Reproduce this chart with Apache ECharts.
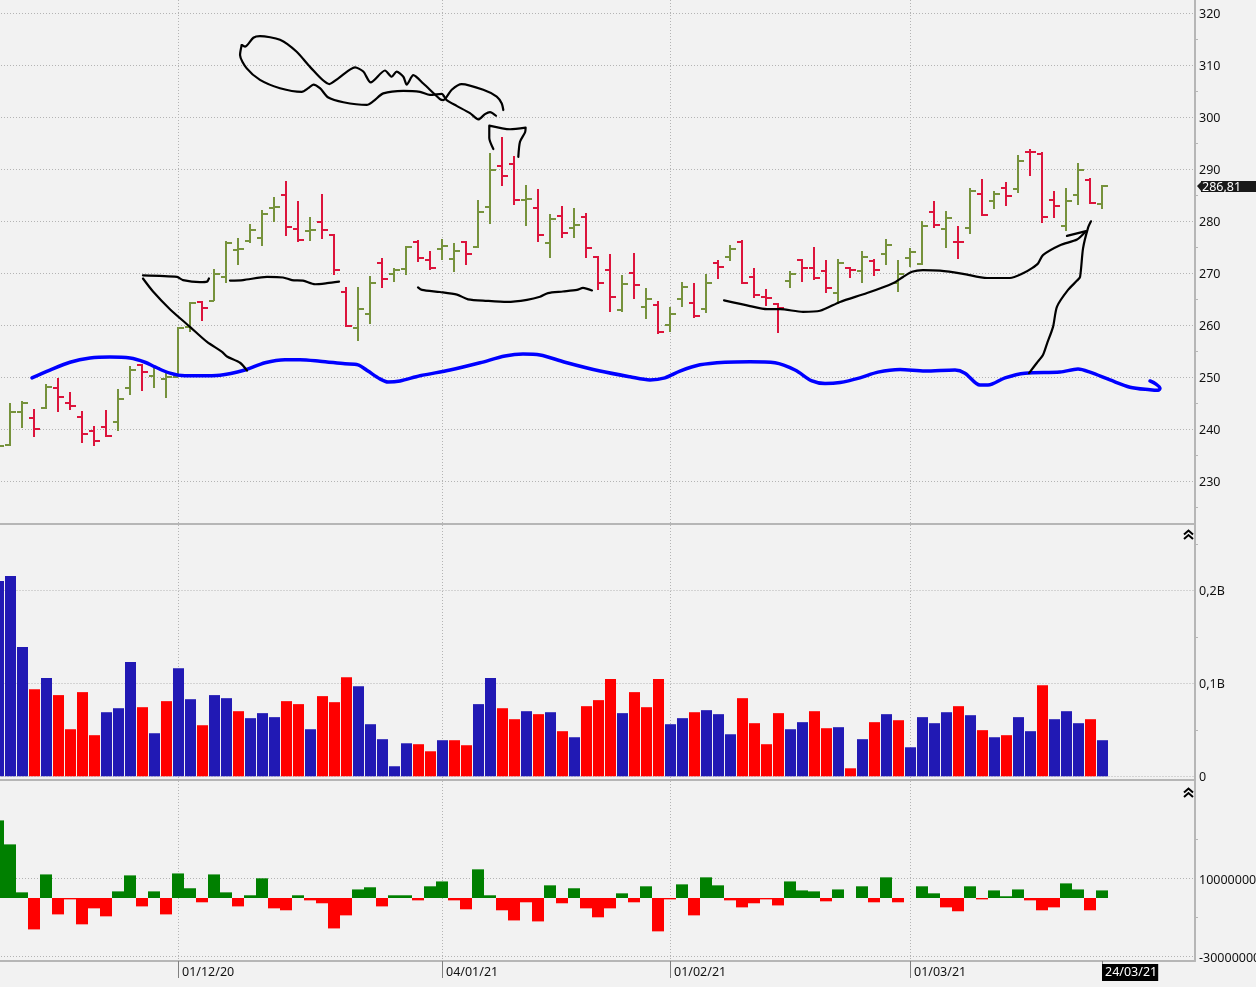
<!DOCTYPE html>
<html>
<head>
<meta charset="utf-8">
<style>html,body{margin:0;padding:0;background:#f2f2f2;overflow:hidden}#c{width:1256px;height:987px}</style>
<script src="https://cdn.jsdelivr.net/npm/echarts@6/dist/echarts.min.js"></script>
</head>
<body>
<div id="c"></div>
<script>
const opens=[236.0,237.0,243.3,242.1,244.1,248.0,245.0,242.4,239.7,240.5,241.4,248.0,252.3,250.3,249.7,250.1,259.7,264.5,264.7,269.3,274.5,276.2,276.8,282.6,285.1,278.5,278.1,279.9,277.4,266.4,259.5,262.2,272.0,269.9,270.8,276.0,272.6,274.7,272.8,276.0,275.1,282.8,290.6,291.0,284.1,282.6,275.8,281.0,278.7,280.8,273.1,270.6,262.9,270.1,263.5,263.9,260.1,265.1,264.3,263.1,272.0,273.1,276.0,269.3,265.4,264.1,268.5,272.6,271.0,270.4,266.2,271.0,270.4,272.4,273.7,268.2,273.0,271.8,281.8,278.5,276.1,278.7,285.3,283.9,286.4,286.2,293.4,293.0,284.1,279.1,285.1,288.0,283.4];
const closes=[236.7,243.3,245.1,240.1,248.1,246.2,244.5,239.1,237.8,238.7,245.8,251.5,251.0,251.7,250.1,259.5,264.3,263.3,269.9,275.9,274.6,278.3,281.4,282.8,278.9,276.4,278.3,278.3,270.6,259.9,263.1,268.1,268.9,270.6,275.1,273.0,271.0,275.3,274.3,273.7,281.8,289.9,288.7,284.1,284.3,277.4,280.4,277.8,279.3,274.9,268.1,265.4,267.9,267.8,265.1,258.7,262.2,267.4,261.8,268.1,271.2,274.7,268.1,265.8,265.3,263.3,269.9,271.0,269.1,267.2,272.0,270.6,273.1,270.6,275.4,269.9,274.1,279.1,279.3,280.6,276.0,285.8,281.2,285.3,284.9,291.6,293.3,280.8,283.0,283.9,289.9,283.5,286.81];
const lows=[235.5,236.8,240.3,238.6,244.0,243.3,243.8,237.4,236.7,238.6,239.6,246.6,247.4,248.0,246.0,250.0,258.7,260.8,264.6,268.1,271.6,275.8,275.3,279.9,277.2,276.1,276.2,276.6,269.7,259.7,257.0,260.3,267.2,268.3,269.7,272.2,270.6,272.6,270.3,271.6,274.9,279.5,286.8,283.1,279.1,276.0,273.0,276.8,276.8,273.0,266.8,262.6,262.6,265.1,261.2,258.3,258.7,263.5,261.4,262.4,268.9,272.4,267.9,265.3,263.7,258.5,267.2,268.3,268.7,266.2,264.1,269.1,268.1,269.5,271.6,266.4,271.2,271.6,278.7,274.9,272.8,277.6,281.0,282.4,283.0,285.4,288.7,279.7,280.6,278.1,283.1,283.3,282.4];
const highs=[238.0,245.0,245.5,244.0,248.7,249.8,247.1,243.5,240.6,243.8,247.7,252.2,252.5,251.9,251.3,259.6,264.4,264.6,270.8,276.2,276.8,279.5,282.2,284.7,287.8,283.9,280.8,285.3,277.5,267.4,267.4,269.5,273.0,271.0,275.2,276.4,274.3,276.6,275.8,276.2,284.1,293.1,296.2,292.6,287.0,286.2,281.4,283.0,282.6,281.6,273.3,273.7,269.7,273.9,267.2,264.7,263.5,268.3,268.1,269.9,272.6,275.4,276.4,271.0,267.0,264.3,270.4,272.8,275.1,272.6,272.8,271.2,274.3,272.8,276.6,272.6,274.9,280.1,283.9,282.0,279.1,286.4,288.1,285.8,287.6,292.8,293.9,293.3,285.8,286.4,291.2,288.3,287.0];
// volume, millions
const volumes=[210.1,215.4,139.0,93.7,105.6,87.3,50.6,90.5,44.2,68.9,73.2,122.8,74.3,46.3,80.8,116.3,82.9,54.9,87.3,84.0,70.0,62.5,67.9,63.6,80.8,77.6,50.6,86.2,79.7,106.6,96.9,56.0,39.9,10.8,35.5,34.5,26.9,38.8,38.8,33.4,77.6,105.6,73.2,61.4,70.0,66.8,68.9,48.5,42.0,75.4,81.9,104.5,67.9,90.5,74.3,104.5,56.0,62.5,68.9,71.1,66.8,45.2,84.0,57.1,34.5,67.9,50.6,58.2,70.0,51.7,52.8,8.6,39.9,58.2,66.8,60.3,31.2,63.6,57.1,68.9,75.4,65.7,49.6,42.0,44.2,63.6,48.5,98.0,61.4,70.0,57.1,61.4,38.8];
const volumeSide="bbbrbrrrrbbbrbrbbrbbrbbbrrbrrrbbbbbrrbrrbbrrbrbrbrrrbrrrbbrbbbrrrrbbrrbrbrbrbbbbrbrbrbbrbbbrb";
// oscillator, millions
const oscillator=[39.8,27.5,2.9,-16.1,12.1,-8.4,-0.7,-13.5,-5.3,-9.4,3.4,11.6,-4.3,3.4,-8.4,12.6,5.0,-2.2,12.1,2.9,-4.3,1.4,10.1,-5.3,-6.3,1.4,-1.2,-2.7,-15.6,-8.9,4.4,5.5,-4.3,1.4,1.4,-1.2,6.0,8.5,-1.2,-5.8,14.7,1.4,-6.3,-11.5,-2.2,-12.0,6.5,-2.7,5.0,-5.3,-9.9,-5.3,2.4,-2.2,6.0,-17.1,-0.7,7.0,-8.9,10.6,6.5,-1.2,-4.8,-2.7,-0.7,-3.8,8.5,3.9,3.4,-1.7,4.4,0,6.0,-2.2,10.6,-2.2,0,6.0,2.4,-4.8,-6.8,6.0,-0.7,3.9,0.9,4.4,-1.2,-6.3,-4.8,7.5,4.4,-6.3,3.9];
const priceTicks=[230,240,250,260,270,280,290,300,310,320];
const priceMidTicks=[225,235,245,255,265,275,285,295,305,315];
const volumeTicks=[0,100,200];
const volumeMidTicks=[50,150,250];
const oscTicks=[-30,10];
const oscMidTicks=[-10,30];
const dateIndex=[15,37,56,76,92];
const dateLabels=['01/12/20','04/01/21','01/02/21','01/03/21','24/03/21'];
const monthIndex=[15,37,56,76];
const lastPrice=286.81, lastPriceText='286,81';
// hand-drawn annotations, as [bar index, price]
const blueStroke=[[2.83,249.9],[4.33,251.4],[6,252.9],[7.67,253.7],[9.33,253.9],[11,253.7],[12.25,252.9],[13.08,252],[14.33,250.8],[15.58,250.3],[16.83,250.3],[18.5,250.4],[20.58,251.4],[22.25,252.8],[23.92,253.4],[25.17,253.4],[26.83,253.1],[28.92,252.6],[30,252.4],[30.83,251.2],[31.83,249.7],[32.5,249.1],[33.5,249.3],[35.17,250.3],[37.67,251.4],[40.17,252.8],[42.25,254.1],[43.75,254.5],[45.17,254.3],[47.25,252.9],[50.17,251.2],[52.67,250.1],[54.33,249.5],[55.58,249.9],[56.83,251.2],[58.5,252.4],[60.58,252.9],[62.67,253],[64.75,252.8],[66.42,251.4],[67.83,249.3],[68.92,248.8],[70.17,249],[71.83,249.9],[73.33,251],[75.17,251.5],[77.25,251.2],[79.75,251.4],[80.58,250.8],[81.83,248.5],[82.5,248.5],[83.92,249.9],[85.58,250.8],[88.5,251],[90,251.6],[91,251],[92.67,249.5],[94.33,248.1],[96,247.6],[96.67,247.5],[96.83,247.9],[96.5,248.7],[96,249.3]];
const strokeA=[[12.08,269.6],[14.92,269.3],[15.42,268.7],[16.83,268.3],[17.42,268.4],[17.58,269]];
const strokeB=[[12.08,269],[12.92,266.5],[14.33,263.1],[16,259.7],[17.42,256.8],[18.67,254.9],[19.08,254],[20.17,252.8],[20.75,251.3]];
const strokeC=[[19.33,268.6],[20.42,268.7],[22.42,269.3],[23.75,269.2],[24.5,268.7],[25.42,268.6],[26.42,267.9],[27.42,268.1],[28.42,268.4]];
const strokeD=[[35,267.3],[35.33,266.8],[36.83,266.4],[38.25,265.9],[39.17,265],[40.75,264.7],[42.42,264.5],[44.08,264.9],[45.17,265.5],[45.83,266.2],[47.08,266.5],[48.25,266.8],[48.75,267.2],[49.5,266.7]];
const strokeE=[[60.5,264.8],[62.67,263.7],[64.08,263.1],[65.17,263.1],[67.08,262.6],[68.5,262.8],[70.17,264.5],[72.42,266.2],[74.58,268.1],[75.42,269.3],[76.17,270.3],[77.08,270.6],[78.5,270.5],[80.42,269.9],[82.42,269.1],[84.33,269.1],[85.42,270],[86.17,271],[86.67,271.9],[87.08,273.5],[88.5,275.4],[89.92,276.5],[90.58,277.9]];
const strokeF=[[89.08,277.2],[90.67,278.1]];
const strokeG=[[91.08,280],[90.83,278.7],[90.42,274.8],[90.17,269.3],[89.92,268.6],[89.17,266.8],[88.25,263.6],[87.92,259.7],[87.42,256.5],[87.08,254.3],[86.58,252.8],[85.92,250.8]];
const strokeTopA=[[20.31,313.9],[20.17,312],[20.73,309.4],[21.83,307.2],[23.5,305.6],[25.31,304.9],[25.86,305.6],[26.28,306.3],[26.83,305.6],[27.53,303.8],[28.78,302.9],[30.73,302.4],[31.28,303.1],[32.11,304.6],[33.78,305.1],[35.17,304.9],[36,304.3],[36.98,304.5],[37.39,303.3],[38.22,302.2],[39.33,300.8],[40.03,299.6],[40.58,300.6],[41,301],[41.5,300.3]];
const strokeTopB=[[20.31,313.9],[20.58,313.6],[21.28,315.3],[21.83,315.6],[23.5,314.9],[24.89,312.6],[26,309.7],[27.61,306.4],[28.36,307.5],[29.75,309.6],[30.44,308.8],[31.06,306.7],[32.25,309],[32.81,307.8],[33.22,308.8],[33.78,307.8],[34.06,306.3],[34.61,308.1],[35.44,306.5],[36.83,303.5],[37.11,303.3],[37.81,305.3],[38.64,306.4],[40.44,305.3],[41.56,304],[41.97,302.7],[42.11,301.4]];
const strokeCup=[[41.28,293.9],[40.94,296],[40.94,298.4],[42.67,297.7],[43.97,298],[43.92,297.1],[43.5,295.3],[43.36,292.4]];
const blackStrokes=[strokeA,strokeB,strokeC,strokeD,strokeE,strokeF,strokeG,strokeTopA,strokeTopB,strokeCup];

const BG='#f2f2f2',FRAME='#b6b6b6',DOT='#b4b4b4',UP='#76923c',DOWN='#dc143c',FONT='"Noto Sans",sans-serif';
const textStyle={color:'#111',fontFamily:FONT,fontSize:12.5};
const chart=echarts.init(document.getElementById('c'),null,{renderer:'canvas'});

function xAxis(grid,max,extra){return Object.assign({type:'value',gridIndex:grid,min:-0.5,max:max,position:'bottom',
  axisLine:{show:false,onZero:false},axisTick:{show:false,customValues:monthIndex},axisLabel:{show:false},
  splitLine:{show:true,lineStyle:{color:DOT,type:[1,2],width:1}}},extra||{});}
function frameLine(){return {show:true,onZero:false,lineStyle:{color:FRAME,width:2}};}
function yMain(grid,min,max,ticks,fmt){return {type:'value',gridIndex:grid,position:'right',min:min,max:max,scale:false,
  axisLine:frameLine(),axisTick:{show:false,customValues:ticks},
  axisLabel:{show:true,customValues:ticks,margin:4,formatter:v=>'{a|'+fmt(v)+'}',rich:{a:{...textStyle,padding:[3,0,0,0]}},showMinLabel:true,showMaxLabel:true,hideOverlap:false,...textStyle},
  splitLine:{show:true,lineStyle:{color:DOT,type:[1,2],width:1}}};}
function yMid(grid,min,max,ticks){return {type:'value',gridIndex:grid,position:'right',min:min,max:max,
  axisLine:{show:false,onZero:false},axisTick:{show:true,inside:false,length:3,customValues:ticks,lineStyle:{color:FRAME,width:1}},
  axisLabel:{show:false},splitLine:{show:false}};}

const ohlcRows=closes.map((c,i)=>[i,opens[i],c,lows[i],highs[i]]);
function renderOhlc(params,api){
  const i=api.value(0),o=api.value(1),c=api.value(2),l=api.value(3),h=api.value(4);
  const px=Math.round(api.coord([i,c])[0]);
  const yO=Math.round(api.coord([i,o])[1]),yC=Math.round(api.coord([i,c])[1]);
  const yL=Math.round(api.coord([i,l])[1]),yH=Math.round(api.coord([i,h])[1]);
  const fill=c>o?UP:DOWN;
  const r=(x,y,w,ht)=>({type:'rect',shape:{x,y,width:w,height:ht},style:{fill}});
  return {type:'group',children:[r(px-1,yH,2,yL-yH),r(px-5,yO-1,5,2),r(px,yC-1,6,2)]};
}
function renderTag(params,api){
  const y=Math.round(api.coord([api.value(0),api.value(1)])[1]);
  const x=params.coordSys.x+params.coordSys.width+2;
  return {type:'group',children:[
    {type:'polygon',shape:{points:[[x,y],[x+5,y-5],[x+5,y+6],[x,y]]},style:{fill:'#1a1a1a'}},
    {type:'rect',shape:{x:x+4,y:y-5,width:60,height:11},style:{fill:'#1a1a1a'}},
    {type:'text',x:x+5,y:y+1,style:{text:lastPriceText,fill:'#fff',font:'12.5px '+FONT,textVerticalAlign:'middle'}}
  ]};
}
const chev=(x,y)=>({type:'polyline',shape:{points:[[x,y+4],[x+4.5,y],[x+9,y+4]]},style:{stroke:'#000',lineWidth:2,fill:null}});
const series=[
 {type:'custom',name:'Price',xAxisIndex:0,yAxisIndex:0,data:ohlcRows,renderItem:renderOhlc,encode:{x:0,y:[1,2,3,4]},z:3,silent:true},
 {type:'bar',name:'Volume',xAxisIndex:1,yAxisIndex:2,barWidth:11,data:volumes.map((v,i)=>[i,v]),z:3,silent:true,
  itemStyle:{color:p=>volumeSide[p.dataIndex]==='r'?'#ff0000':'#2119b4'}},
 {type:'bar',name:'Oscillator',xAxisIndex:2,yAxisIndex:4,barWidth:12,data:oscillator.map((v,i)=>[i,v]),z:3,silent:true,
  itemStyle:{color:p=>p.data[1]>=0?'#008000':'#ff0000'}},
 {type:'line',xAxisIndex:0,yAxisIndex:0,data:blueStroke,showSymbol:false,smooth:0.3,lineStyle:{color:'#0000ff',width:3.5,cap:'round',join:'round'},z:5,silent:true},
 ...blackStrokes.map(s=>({type:'line',xAxisIndex:0,yAxisIndex:0,data:s,showSymbol:false,smooth:0.25,lineStyle:{color:'#000',width:2.2,cap:'round',join:'round'},z:6,silent:true})),
 {type:'custom',name:'Last',xAxisIndex:0,yAxisIndex:0,clip:false,data:[[92,lastPrice]],renderItem:renderTag,encode:{x:0,y:1},z:8,silent:true}
];
chart.setOption({
 animation:false,backgroundColor:BG,tooltip:{show:false},legend:{show:false},
 grid:[{left:-8,top:0,width:1203,height:524,outerBoundsMode:'none',containLabel:false},{left:-7.5,top:525,width:1202.5,height:255,outerBoundsMode:'none',containLabel:false},{left:-8,top:781,width:1203,height:180,outerBoundsMode:'none',containLabel:false}],
 xAxis:[
  xAxis(0,99.75,{axisLine:frameLine()}),
  xAxis(1,99.708,{axisLine:frameLine()}),
  {type:'value',gridIndex:2,min:-0.5,max:99.75,position:'bottom',
   axisLine:frameLine(),
   axisTick:{show:true,customValues:dateIndex,length:17,lineStyle:{color:'#808080',width:1}},
   splitLine:{show:false},
   axisLabel:{show:true,customValues:dateIndex,margin:3,align:'left',hideOverlap:false,showMinLabel:true,showMaxLabel:true,
    formatter:v=>{const k=dateIndex.indexOf(v);return k===dateIndex.length-1?'{last|'+dateLabels[k]+'}':'{d|'+dateLabels[k]+'}';},
    rich:{d:{...textStyle,padding:[2,0,2,4]},last:{...textStyle,color:'#fff',backgroundColor:'#000',padding:[2,1,2,3]}}}},
  xAxis(2,99.75)
 ],
 yAxis:[
  yMain(0,221.79,322.56,priceTicks,v=>String(v)),
  yMid(0,221.79,322.56,priceMidTicks),
  yMain(1,-3.98,270.2,volumeTicks,v=>v===0?'0':(v/1000).toFixed(1).replace('.',',')+'B'),
  yMid(1,-3.98,270.2,volumeMidTicks),
  yMain(2,-32.3,60,oscTicks,v=>String(v*1000000)),
  yMid(2,-32.3,60,oscMidTicks)
 ],
 series:series,
 graphic:[{type:'group',silent:true,z:20,children:[chev(1184,530.5),chev(1184,535),chev(1184,788.5),chev(1184,793)]}]
});
</script>
</body>
</html>
